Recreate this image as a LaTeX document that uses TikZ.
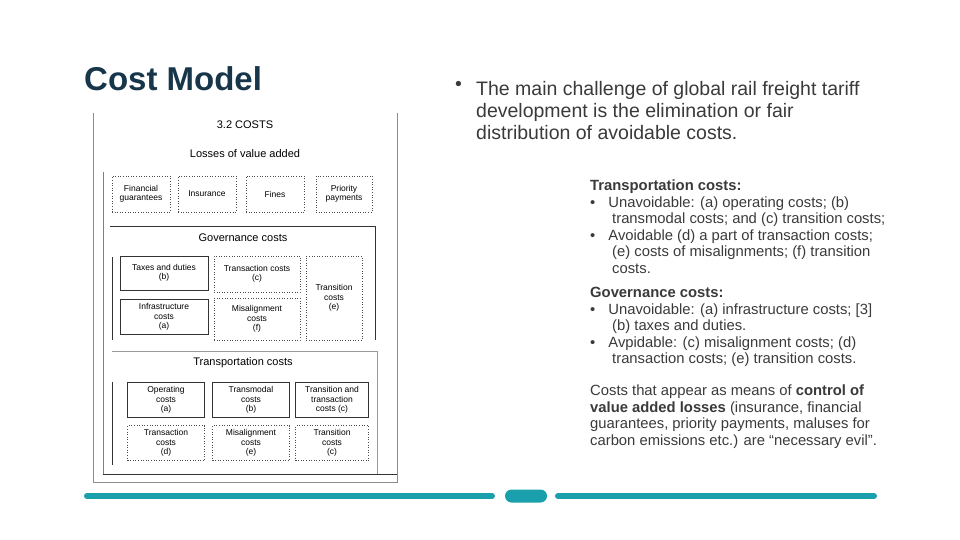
\documentclass[tikz,border=0pt]{standalone}
\usepackage{fontspec}
\setmainfont{Liberation Sans}
\usetikzlibrary{positioning}
\definecolor{teal}{HTML}{1AA0AC}
\definecolor{ink}{HTML}{17364A}
\definecolor{txt}{HTML}{3A3A3A}
\begin{document}
\begin{tikzpicture}[x=1pt,y=-1pt,
    solidbox/.style = {draw=black!80,line width=0.6pt,align=center,inner sep=1pt,font=\fontsize{8.5}{9.5}\selectfont},
    dotbox/.style = {draw=black!70,dotted,line width=0.6pt,align=center,inner sep=1pt,font=\fontsize{8.5}{9.5}\selectfont},
    head/.style = {font=\fontsize{11}{12}\selectfont},
    body/.style = {anchor=north west,align=left,text=txt,inner sep=0pt,font=\fontsize{14.8}{16.5}\selectfont},
    bar/.style = {line width=6pt,teal,line cap=round}]
  \useasboundingbox (0,0) rectangle (960,540);

  % title and lead bullet
  \node[anchor=west,text=ink,inner sep=0pt,font=\fontsize{33}{36}\selectfont\bfseries](title) at (84,79) {Cost Model};
  \node[anchor=north west,text=txt,inner sep=0pt,font=\fontsize{19.5}{22}\selectfont](bullet) at (455,81) {•};
  \node[anchor=north west,align=left,text=txt,inner sep=0pt,font=\fontsize{19.5}{22}\selectfont](lead) at (476,81)
    {The main challenge of global rail freight tariff\\
    development is the elimination or fair\\
    distribution of avoidable costs.};

  % right column
  \node[body](transport) at (590,180) {\textbf{Transportation costs:}\\
    •\hspace{13pt}Unavoidable: (a) operating costs; (b)\\
    \hspace{22pt}transmodal costs; and (c) transition costs;\\
    •\hspace{13pt}Avoidable (d) a part of transaction costs;\\
    \hspace{22pt}(e) costs of misalignments; (f) transition\\
    \hspace{22pt}costs.};
  \node[body](governance) at (590,287) {\textbf{Governance costs:}\\
    •\hspace{13pt}Unavoidable: (a) infrastructure costs; [3]\\
    \hspace{22pt}(b) taxes and duties.\\
    •\hspace{13pt}Avpidable: (c) misalignment costs; (d)\\
    \hspace{22pt}transaction costs; (e) transition costs.};
  \node[body](evil) at (590,385) {Costs that appear as means of \textbf{control of}\\
    \textbf{value added losses} (insurance, financial\\
    guarantees, priority payments, maluses for\\
    carbon emissions etc.) are “necessary evil”.};

  % cost diagram
  \draw[black!45,line width=1pt] (93,113) -- (93,482) -- (397,482) -- (397,113);
  \node[head](costs) at (245,125) {3.2 COSTS};
  \node[head](losses) at (245,154) {Losses of value added};
  \draw[black!50] (103,172) -- (103,474);
  \node[dotbox,minimum width=58pt,minimum height=36pt](finance) at (141,194) {Financial\\guarantees};
  \node[dotbox,minimum width=58pt,minimum height=36pt](insurance) at (207,194) {Insurance};
  \node[dotbox,minimum width=58pt,minimum height=36pt](fines) at (275,194) {Fines};
  \node[dotbox,minimum width=56pt,minimum height=36pt](priority) at (344,194) {Priority\\payments};

  \draw[black!80,line width=0.6pt] (110,226) -- (375,226) -- (375,340);
  \draw[black!80,line width=0.6pt] (112,257) -- (112,340);
  \node[head](govhead) at (243,238) {Governance costs};
  \node[solidbox,minimum width=88pt,minimum height=34pt](taxes) at (164,273) {Taxes and duties\\(b)};
  \node[dotbox,minimum width=86pt,minimum height=36pt](transaction) at (257,274) {Transaction costs\\(c)};
  \node[dotbox,minimum width=56pt,minimum height=84pt](transition) at (334,298) {Transition\\costs\\(e)};
  \node[solidbox,minimum width=88pt,minimum height=35pt](infra) at (164,317) {Infrastructure\\costs\\(a)};
  \node[dotbox,minimum width=86pt,minimum height=42pt](misalign) at (257,319) {Misalignment\\costs\\(f)};

  \draw[black!40,line width=0.6pt] (112,351) -- (377,351) -- (377,474);
  \draw[black!80,line width=0.6pt] (112,382) -- (112,465);
  \draw[black!80,line width=0.6pt] (103,474) -- (397,474);
  \node[head](transhead) at (243,363) {Transportation costs};
  \node[solidbox,minimum width=77pt,minimum height=35pt](operating) at (166,400) {Operating\\costs\\(a)};
  \node[solidbox,minimum width=77pt,minimum height=35pt](transmodal) at (251,400) {Transmodal\\costs\\(b)};
  \node[solidbox,minimum width=73pt,minimum height=35pt](transtrans) at (332,400) {Transition and\\transaction\\costs (c)};
  \node[dotbox,minimum width=77pt,minimum height=35pt](transact) at (166,443) {Transaction\\costs\\(d)};
  \node[dotbox,minimum width=77pt,minimum height=35pt](misal) at (251,443) {Misalignment\\costs\\(e)};
  \node[dotbox,minimum width=73pt,minimum height=35pt](transit) at (332,443) {Transition\\costs\\(c)};

  % footer bars
  \coordinate (barA) at (87,496);
  \coordinate (barB) at (492,496);
  \coordinate (barC) at (558,496);
  \coordinate (barD) at (874,496);
  \draw[bar] (barA) -- (barB);
  \draw[bar] (barC) -- (barD);
  \node[fill=teal,rounded corners=6.5pt,minimum width=42pt,minimum height=13pt,inner sep=0pt](pill) at (526,496) {};
\end{tikzpicture}
\end{document}
